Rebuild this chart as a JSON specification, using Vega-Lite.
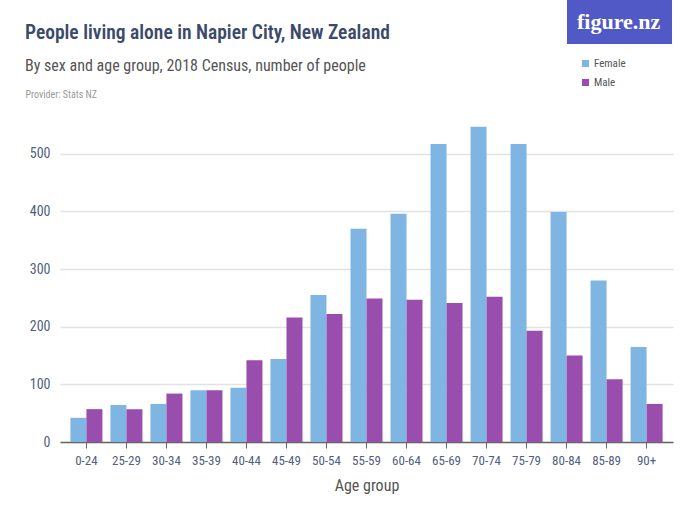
{
  "$schema": "https://vega.github.io/schema/vega-lite/v6.json",
  "autosize": {"type": "none"},
  "width": 613,
  "height": 317,
  "padding": {"left": 60, "top": 125, "right": 27, "bottom": 83},
  "background": "white",
  "title": {
    "text": "People living alone in Napier City, New Zealand",
    "subtitle": "By sex and age group, 2018 Census, number of people",
    "anchor": "start",
    "frame": "group",
    "orient": "top",
    "dx": -35,
    "offset": -75,
    "font": "Liberation Sans Narrow, Roboto Condensed, DejaVu Sans Condensed, Roboto",
    "fontSize": 19.5,
    "fontWeight": 600,
    "color": "#3b4a6b",
    "subtitleFont": "Liberation Sans Narrow, Roboto Condensed, DejaVu Sans Condensed, Roboto",
    "subtitleFontSize": 16,
    "subtitleColor": "#555555",
    "subtitlePadding": 15
  },
  "data": {
    "values": [
      {"age": "0-24", "sex": "Female", "people": 42},
      {"age": "0-24", "sex": "Male", "people": 57},
      {"age": "25-29", "sex": "Female", "people": 64},
      {"age": "25-29", "sex": "Male", "people": 57},
      {"age": "30-34", "sex": "Female", "people": 66},
      {"age": "30-34", "sex": "Male", "people": 84},
      {"age": "35-39", "sex": "Female", "people": 90},
      {"age": "35-39", "sex": "Male", "people": 90},
      {"age": "40-44", "sex": "Female", "people": 94},
      {"age": "40-44", "sex": "Male", "people": 142},
      {"age": "45-49", "sex": "Female", "people": 144},
      {"age": "45-49", "sex": "Male", "people": 216},
      {"age": "50-54", "sex": "Female", "people": 255},
      {"age": "50-54", "sex": "Male", "people": 222},
      {"age": "55-59", "sex": "Female", "people": 370},
      {"age": "55-59", "sex": "Male", "people": 249},
      {"age": "60-64", "sex": "Female", "people": 396},
      {"age": "60-64", "sex": "Male", "people": 247},
      {"age": "65-69", "sex": "Female", "people": 517},
      {"age": "65-69", "sex": "Male", "people": 241},
      {"age": "70-74", "sex": "Female", "people": 547},
      {"age": "70-74", "sex": "Male", "people": 252},
      {"age": "75-79", "sex": "Female", "people": 517},
      {"age": "75-79", "sex": "Male", "people": 193},
      {"age": "80-84", "sex": "Female", "people": 399},
      {"age": "80-84", "sex": "Male", "people": 150},
      {"age": "85-89", "sex": "Female", "people": 280},
      {"age": "85-89", "sex": "Male", "people": 109},
      {"age": "90+", "sex": "Female", "people": 165},
      {"age": "90+", "sex": "Male", "people": 66}
    ]
  },
  "mark": {"type": "bar"},
  "encoding": {
    "x": {
      "field": "age",
      "type": "nominal",
      "sort": null,
      "scale": {"paddingInner": 0.2, "paddingOuter": 0.26},
      "axis": {
        "title": "Age group",
        "labelAngle": 0,
        "labelFontSize": 13,
        "labelColor": "#4f5f80",
        "labelPadding": 6,
        "tickColor": "#666666",
        "tickSize": 6,
        "domainColor": "#666666",
        "domainWidth": 1.5,
        "titleFontSize": 16,
        "titleFontWeight": "normal",
        "titleColor": "#555555",
        "titlePadding": 10,
        "grid": false
      }
    },
    "xOffset": {
      "field": "sex",
      "type": "nominal",
      "scale": {"paddingInner": 0, "paddingOuter": 0}
    },
    "y": {
      "field": "people",
      "type": "quantitative",
      "scale": {"domain": [0, 550], "nice": false},
      "axis": {
        "values": [0, 100, 200, 300, 400, 500],
        "title": "Provider: Stats NZ",
        "titleAngle": 0,
        "titleAlign": "left",
        "titleBaseline": "alphabetic",
        "titleX": -35,
        "titleY": -28,
        "titleFontSize": 10,
        "titleFontWeight": "normal",
        "titleColor": "#999999",
        "labelFontSize": 14,
        "labelColor": "#4f5f80",
        "labelPadding": 10,
        "ticks": false,
        "domain": false,
        "gridColor": "#e2e2e2",
        "gridWidth": 1.5
      }
    },
    "color": {
      "field": "sex",
      "type": "nominal",
      "scale": {"domain": ["Female", "Male"], "range": ["#7fb5e3", "#994dad"]},
      "legend": {
        "title": null,
        "orient": "none",
        "legendX": 520,
        "legendY": -67,
        "symbolType": "square",
        "symbolSize": 50,
        "symbolStrokeWidth": 0,
        "labelFontSize": 11,
        "labelColor": "#555555",
        "labelOffset": 3,
        "rowPadding": 7
      }
    },
    "opacity": {
      "datum": "figure.nz",
      "type": "nominal",
      "scale": {"domain": ["figure.nz"], "range": [1]},
      "legend": {
        "title": null,
        "orient": "none",
        "legendX": 507,
        "legendY": -125,
        "fillColor": "#5159c6",
        "padding": 11,
        "symbolSize": 0.0001,
        "symbolOpacity": 0,
        "symbolStrokeWidth": 0,
        "labelOffset": -23,
        "labelFont": "Liberation Serif",
        "labelFontWeight": "bold",
        "labelFontSize": 22,
        "labelColor": "white",
        "labelLimit": 200
      }
    }
  },
  "config": {
    "font": "Liberation Sans Narrow, Roboto Condensed, DejaVu Sans Condensed, Roboto",
    "view": {"stroke": null}
  }
}
